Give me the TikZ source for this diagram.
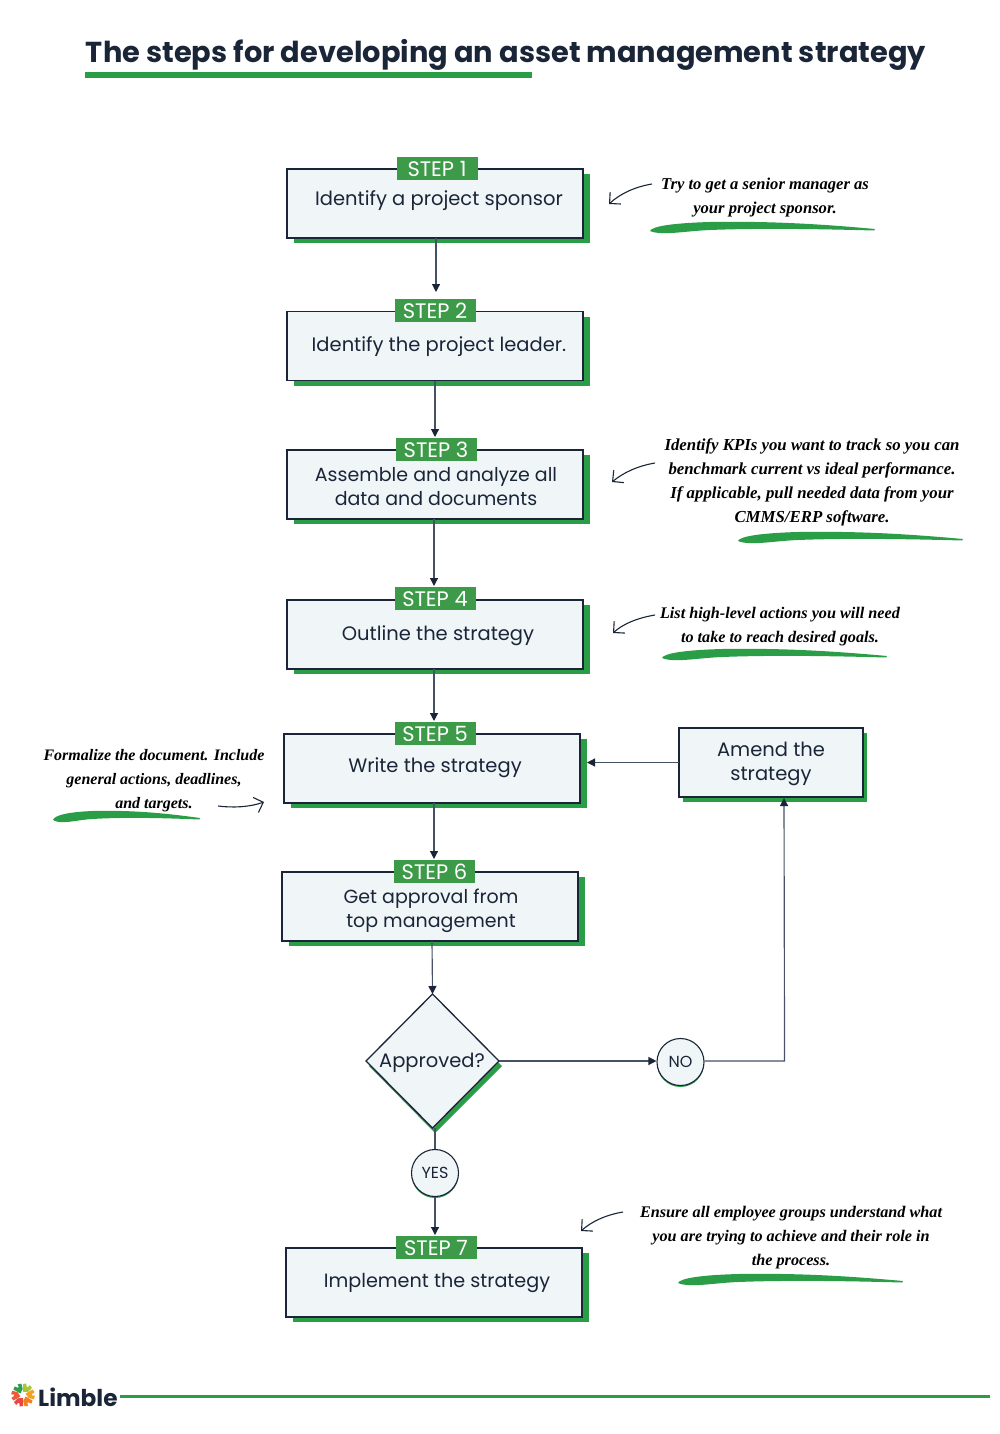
\documentclass[tikz,border=0pt]{standalone}
\usepackage{fontspec}
\setmainfont{Poppins}
\newfontfamily\notefont{Liberation Serif}[ItalicFont={Liberation Serif Italic}]
\usetikzlibrary{arrows.meta,shapes.geometric}
\definecolor{ink}{HTML}{1A2638}
\definecolor{linegrey}{HTML}{465264}
\definecolor{boxfill}{HTML}{F0F5F8}
\definecolor{leaf}{HTML}{2A9D47}
\definecolor{tag}{HTML}{3C9A48}
\tikzset{
  x=1pt,y=-1pt,
  flowbox/.style={draw=ink,line width=1.5pt,fill=boxfill,minimum width=296pt,minimum height=69pt,inner sep=0pt,outer sep=0pt},
  boxshade/.style={fill=leaf,minimum width=296pt,minimum height=69pt,inner sep=0pt,outer sep=0pt,xshift=7pt,yshift=-5pt},
  tagbox/.style={fill=tag,text=white,font=\fontsize{21}{22}\selectfont,minimum width=81pt,minimum height=23pt,text height=16pt,text depth=0pt,inner sep=0pt,outer sep=0pt},
  boxtext/.style={text=ink,font=\fontsize{#1}{24}\selectfont,align=center,inner sep=0pt},
  boxtext/.default=19.5,
  flow/.style={draw=linegrey,line width=1.15pt,-{Triangle[length=8pt,width=8pt,color=ink]}},
  plainflow/.style={draw=linegrey,line width=1.15pt},
  badge/.style={circle,draw=ink,line width=1.1pt,fill=boxfill,minimum size=47pt,inner sep=0pt,text=ink,font=\fontsize{16}{16}\selectfont},
  badgeshade/.style={circle,fill=leaf,minimum size=47pt,inner sep=0pt,yshift=-1.5pt},
  note/.style={text=black,font=\notefont\itshape\bfseries\fontsize{#1}{24}\selectfont,align=center,inner sep=0pt},
  handarrow/.style={draw=ink,line width=1.1pt,-{Straight Barb[length=8pt,width=16pt]}},
}
\newcommand{\stepbox}[6]{%
  \node[boxshade] (#1s) at (#2,#3) {};
  \node[flowbox] (#1) at (#2,#3) {};
  \node[tagbox] (#1t) at (#4,#5) {#6};
}
\newcommand{\brushmark}[3]{%
  \begin{scope}[shift={(#1,#2)},xscale=#3/225]
    \fill[leaf] (0,0) .. controls (2,-5) and (25,-8) .. (60,-9)
      .. controls (120,-10) and (170,-7) .. (225,-2)
      .. controls (225,-1) and (225,-1) .. (224,-0.5)
      .. controls (170,-2) and (110,-3) .. (60,-1)
      .. controls (35,0) and (12,5) .. (0,0) -- cycle;
  \end{scope}}
\begin{document}
\begin{tikzpicture}
\useasboundingbox (0,0) rectangle (1000,1434);
\fill[white] (0,0) rectangle (1000,1434);
% title
\node[text=ink,font=\fontsize{28.85}{32}\selectfont\bfseries,inner sep=0pt] (title) at (506,55) {The steps for developing an asset management strategy};
\fill[leaf] (85,72) rectangle (532,78);
% steps
\stepbox{a}{435}{203.5}{437}{168.5}{STEP 1}
\stepbox{b}{435}{346}{435}{310.5}{STEP 2}
\stepbox{c}{435}{484.5}{436}{449.5}{STEP 3}
\stepbox{d}{435}{634.5}{435}{598.5}{STEP 4}
\stepbox{e}{432}{768.5}{435}{733.5}{STEP 5}
\stepbox{f}{430}{906.5}{434.5}{871.5}{STEP 6}
\stepbox{g}{434}{1282.5}{436}{1247.5}{STEP 7}
\node[boxtext] (ax) at (439,200.5) {Identify a project sponsor};
\node[boxtext] (bx) at (439,346.5) {Identify the project leader.};
\node[boxtext=19] (cx) at (436,487) {Assemble and analyze all\\data and documents};
\node[boxtext] (dx) at (438,635.5) {Outline the strategy};
\node[boxtext] (ex) at (435,767.5) {Write the strategy};
\node[boxtext=19] (fx) at (431,910.5) {Get approval from\\top management};
\node[boxtext=19.2] (gx) at (437,1282.5) {Implement the strategy};
% amend
\node[fill=leaf,minimum width=184pt,minimum height=69pt,inner sep=0pt,outer sep=0pt] (ms) at (775,767.5) {};
\node[flowbox,minimum width=184pt] (m) at (771,762.5) {};
\node[boxtext] (mx) at (771,763.5) {Amend the\\strategy};
% decision
\fill[leaf] (369,1066) -- (435,1000) -- (502,1066) -- (435,1133) -- cycle;
\node[diamond,aspect=1,draw=ink,line width=1.3pt,fill=boxfill,minimum width=133pt,minimum height=134pt,inner sep=0pt,outer sep=0pt] (q) at (432.5,1061) {};
\node[boxtext] (qx) at (432,1063) {Approved?};
\node[badgeshade] (ys) at (435,1173) {};
\node[badge] (y) at (435,1173) {YES};
\node[badgeshade] (ns) at (680.5,1062) {};
\node[badge] (n) at (680.5,1062) {NO};
% connectors
\draw[flow] ([xshift=1pt]a.south) -- ([xshift=1pt,yshift=7pt]bt.north);
\draw[flow] (b.south) -- ([xshift=-1pt,yshift=1pt]ct.north);
\draw[flow] ([xshift=-1pt]c.south) -- ([xshift=-1pt,yshift=1pt]dt.north);
\draw[flow] ([xshift=-1pt]d.south) -- ([xshift=-1pt,yshift=1pt]et.north);
\draw[flow] ([xshift=2pt]e.south) -- ([xshift=-.5pt,yshift=1pt]ft.north);
\draw[flow] ([xshift=2pt]f.south) -- (q.north);
\draw[flow] (q.east) -- (q.east -| n.west);
\draw[plainflow] ([xshift=2.5pt]q.south) -- (y.north);
\draw[flow] (y.south) -- ([xshift=-1pt,yshift=1pt]gt.north);
\draw[flow] (n.east |- q.east) -- ++(80,0) -- ([xshift=13pt,yshift=-1pt]m.south);
\draw[flow] (m.west) -- (m.west -| es.east);
% notes
\node[note=16.6] (n1) at (765,198) {Try to get a senior manager as\\your project sponsor.};
\brushmark{650}{231}{225}
\coordinate (n1a) at (652,184);
\coordinate (n1b) at (609,204);
\draw[handarrow] (n1a) .. controls (634,187) and (620,194) .. (n1b);
\node[note=16.8] (n2) at (812,482) {Identify KPIs you want to track so you can\\benchmark current vs ideal performance.\\If applicable, pull needed data from your\\CMMS/ERP software.};
\brushmark{738}{541}{225}
\coordinate (n2a) at (655,463);
\coordinate (n2b) at (612,482);
\draw[handarrow] (n2a) .. controls (637,466) and (623,473) .. (n2b);
\node[note=16.2] (n3) at (780,627) {List high-level actions you will need\\to take to reach desired goals.};
\brushmark{662}{658}{225}
\coordinate (n3a) at (655,615);
\coordinate (n3b) at (613,633);
\draw[handarrow] (n3a) .. controls (637,618) and (623,624) .. (n3b);
\node[note=16] (n4) at (154,781) {Formalize the document. Include\\general actions, deadlines,\\and targets.};
\brushmark{53}{820}{147}
\coordinate (n4a) at (218,806);
\coordinate (n4b) at (264,802);
\draw[handarrow] (n4a) .. controls (233,808) and (250,807) .. (n4b);
\node[note=16.2] (n5) at (791,1238) {Ensure all employee groups understand what\\you are trying to achieve and their role in\\the process.};
\brushmark{678}{1283}{225}
\coordinate (n5a) at (623,1212);
\coordinate (n5b) at (581,1231);
\draw[handarrow] (n5a) .. controls (605,1215) and (591,1222) .. (n5b);
% logo
\foreach \ang/\col in {120/2F9E48,60/A5C63B,0/F7A01E,-60/F2801F,-120/E8483F,180/EF5A3C}{
  \definecolor{petal}{HTML}{\col}
  \fill[petal,shift={(23,1395)}] (\ang-27:6pt) -- (\ang-22:11.5pt) -- (\ang-4:12pt) -- (\ang-2:9pt) -- (\ang+6:9pt) -- (\ang+14:12pt) -- (\ang+30:11pt) -- (\ang+30:3pt) -- cycle;
}
\node[text=ink,font=\fontsize{23.2}{26}\selectfont\bfseries,inner sep=0pt,anchor=west] (logo) at (38,1397) {Limble};
\coordinate (rule) at (990,1396);
\draw[leaf,line width=3pt] (120,1396) -- (rule);
\end{tikzpicture}
\end{document}
